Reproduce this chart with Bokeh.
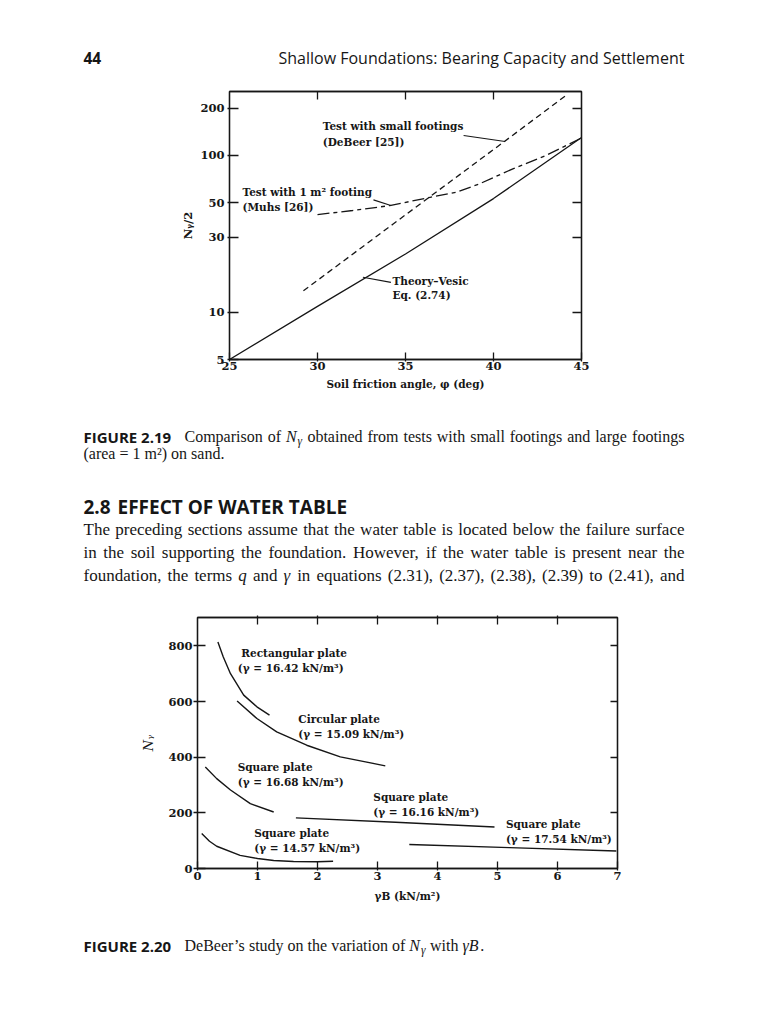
from bokeh.plotting import figure
from bokeh.layouts import column
from bokeh.models import Range1d, FixedTicker, LinearAxis, LogAxis, PrintfTickFormatter
from bokeh.core.properties import value
from bokeh.embed import file_html
from bokeh.resources import INLINE

# ---------------- data: Figure 2.19 ----------------
phi_ticks = [25, 30, 35, 40, 45]
ng2_ticks = [5, 10, 30, 50, 100, 200]
phi_vesic = [25, 30, 35, 40, 45]
ng2_vesic = [5.0, 10.9, 23.5, 53.0, 130.0]
phi_small = [29.2, 34.3, 40.6, 44.1]
ng2_small = [13.7, 36.5, 122.0, 240.0]
phi_muhs = [30.0, 32.0, 34.1, 36.4, 37.9, 39.2, 41.1, 43.0, 45.0]
ng2_muhs = [41.9, 44.5, 47.8, 54.0, 58.2, 65.8, 82.0, 100.0, 129.0]
fig1_labels = ["Test with small footings", "(DeBeer [25])", "Test with 1 m² footing",
               "(Muhs [26])", "Theory–Vesic", "Eq. (2.74)"]

# ---------------- data: Figure 2.20 ----------------
gb_ticks = [0, 1, 2, 3, 4, 5, 6, 7]
ng_ticks = [0, 200, 400, 600, 800]
rect_x = [0.34, 0.43, 0.55, 0.77, 0.99, 1.2]
rect_y = [814, 760, 700, 623, 581, 551]
circ_x = [0.66, 0.99, 1.32, 1.82, 2.38, 2.8, 3.13]
circ_y = [602, 539, 491, 443, 401, 383, 369]
sq1668_x = [0.13, 0.32, 0.55, 0.88, 1.27]
sq1668_y = [365, 323, 282, 233, 203]
sq1616_x = [1.64, 3.3, 4.95]
sq1616_y = [182, 166, 149]
sq1754_x = [3.53, 5.2, 6.98]
sq1754_y = [86, 75, 63]
sq1457_x = [0.07, 0.2, 0.32, 0.71, 1.0, 1.27, 1.6, 2.0, 2.26]
sq1457_y = [126, 98, 80, 47, 36, 29, 25, 24, 26]
fig2_labels = ["Rectangular plate", "(γ = 16.42 kN/m³)", "Circular plate", "(γ = 15.09 kN/m³)",
               "Square plate", "(γ = 16.68 kN/m³)", "Square plate", "(γ = 16.16 kN/m³)",
               "Square plate", "(γ = 17.54 kN/m³)", "Square plate", "(γ = 14.57 kN/m³)"]

# ---------------- page text ----------------
header_num = "44"
header_title = "Shallow Foundations: Bearing Capacity and Settlement"
cap1_tag = "FIGURE 2.19"
cap1_line1 = "Comparison of Nγ obtained from tests with small footings and large footings"
cap1_line2 = "(area = 1 m²) on sand."
section_num = "2.8"
section_title = "EFFECT OF WATER TABLE"
para_lines = [
    "The preceding sections assume that the water table is located below the failure surface",
    "in the soil supporting the foundation. However, if the water table is present near the",
    "foundation, the terms q and γ in equations (2.31), (2.37), (2.38), (2.39) to (2.41), and",
]
cap2_tag = "FIGURE 2.20"
cap2_text = "DeBeer’s study on the variation of Nγ with γB."

# ---------------- layout / style ----------------
W = 768
INK = "#161616"
SERIF = "Liberation Serif"
SANS = "Open Sans"
CH = "DejaVu Serif"

# Times-like advance widths (per 1000 em) used for justification
TW = {' ': 250, '(': 333, ')': 333, ',': 250, '.': 250, '-': 333, '=': 564, '’': 333, '²': 300,
      'A': 722, 'B': 667, 'C': 667, 'D': 722, 'E': 611, 'F': 556, 'G': 722, 'H': 722, 'I': 333,
      'N': 722, 'O': 722, 'S': 556, 'T': 611, 'W': 944,
      'a': 444, 'b': 500, 'c': 444, 'd': 500, 'e': 444, 'f': 333, 'g': 500, 'h': 500, 'i': 278,
      'j': 278, 'k': 500, 'l': 278, 'm': 778, 'n': 500, 'o': 500, 'p': 500, 'q': 500, 'r': 333,
      's': 389, 't': 278, 'u': 500, 'v': 500, 'w': 722, 'x': 500, 'y': 500, 'z': 444, 'γ': 440}
for d in "0123456789":
    TW[d] = 500

SPECIAL = {
    "Nγ": [("N", "italic", 1.0, 0.0), ("γ", "italic", 0.72, 4.0)],
    "q": [("q", "italic", 1.0, 0.0)],
    "γ": [("γ", "italic", 1.0, 0.0)],
    "γB.": [("γB", "italic", 1.0, 0.0), (".", "normal", 1.0, 0.0)],
}


def no_align(p):
    if "frame_align" in p.properties():
        p.frame_align = False


def seg_w(t, size, sc):
    return sum(TW.get(c, 500) for c in t) / 1000.0 * size * sc


def text_fig(h):
    p = figure(width=W, height=h, x_range=Range1d(0, W), y_range=Range1d(h, 0),
               x_axis_location=None, y_axis_location=None, toolbar_location=None,
               output_backend="svg", min_border=0, outline_line_color=None)
    p.grid.visible = False
    no_align(p)
    return p


def put(p, x, y, s, font, size, style="normal", align="left"):
    p.text(x=[x], y=[y], text=[s], text_font=value(font), text_font_size=f"{size:.1f}px",
           text_font_style=style, text_align=align, text_baseline="alphabetic", text_color=INK)


def place_line(p, line, x0, x1, y, size, font, justify=True):
    words = line.split(" ")
    segs = [SPECIAL.get(w, [(w, "normal", 1.0, 0.0)]) for w in words]
    widths = [sum(seg_w(t, size, sc) for t, st, sc, dy in s) for s in segs]
    if justify and len(words) > 1:
        gap = (x1 - x0 - sum(widths)) / (len(words) - 1)
    else:
        gap = 0.25 * size
    x = x0
    for s, wd in zip(segs, widths):
        xx = x
        for t, st, sc, dy in s:
            put(p, xx, y + dy, t, font, size * sc, st)
            xx += seg_w(t, size, sc)
        x += wd + gap


def style_axis(ax, tin, tout, standoff, size=11.5, lsize=10.5):
    ax.minor_tick_line_color = None
    ax.major_tick_in = tin
    ax.major_tick_out = tout
    ax.major_tick_line_color = INK
    ax.major_tick_line_width = 1.3
    ax.axis_line_color = INK
    ax.axis_line_width = 1.3
    ax.major_label_standoff = standoff
    ax.major_label_text_font = CH
    ax.major_label_text_font_size = f"{size}px"
    ax.major_label_text_font_style = "bold"
    ax.major_label_text_color = INK
    ax.axis_label_text_font = CH
    ax.axis_label_text_font_size = f"{lsize}px"
    ax.axis_label_text_font_style = "bold"
    ax.axis_label_text_color = INK


def bare_axis(ax):
    ax.major_label_text_color = None
    ax.major_label_text_font_size = "0px"


# ---- header (page y 0..80) ----
f_head = text_fig(80)
put(f_head, 83, 57, header_num, SANS, 15.5, "bold")
put(f_head, 278, 57, header_title, SANS, 16)

# ---- Figure 2.19 (page y 80..400) ----
p1 = figure(width=W, height=320, x_range=Range1d(25, 45), y_range=Range1d(5, 255), y_axis_type="log",
            toolbar_location=None, output_backend="svg",
            min_border_left=229, min_border_right=187, min_border_top=11, min_border_bottom=41,
            outline_line_color=INK, outline_line_width=1.3)
p1.grid.visible = False
no_align(p1)

xa = p1.xaxis[0]
xa.ticker = FixedTicker(ticks=phi_ticks)
style_axis(xa, 7, 2, 0)
xa.axis_label = "Soil friction angle, φ (deg)"
xa.axis_label_standoff = 5
ya = p1.yaxis[0]
ya.ticker = FixedTicker(ticks=ng2_ticks)
ya.formatter = PrintfTickFormatter(format="%d")
style_axis(ya, 9, 2, 3, lsize=11.5)
ya.axis_label = "Nᵧ/2"
ya.axis_label_standoff = 2

top1 = LinearAxis(ticker=FixedTicker(ticks=phi_ticks[1:-1]))
style_axis(top1, 8, 0, 0)
bare_axis(top1)
p1.add_layout(top1, "above")
right1 = LogAxis(ticker=FixedTicker(ticks=ng2_ticks[1:]))
style_axis(right1, 9, 0, 0)
bare_axis(right1)
p1.add_layout(right1, "right")

p1.line(phi_vesic, ng2_vesic, line_color=INK, line_width=1.3)
p1.line(phi_small, ng2_small, line_color=INK, line_width=1.3, line_dash="6 4")
p1.line(phi_muhs, ng2_muhs, line_color=INK, line_width=1.3, line_dash="12 4 4 4")

# annotation placement (data units)
l1_x = [30.3, 30.3, 25.74, 25.74, 34.26, 34.26]
l1_y = [153, 121, 58.7, 46.7, 15.9, 12.8]
p1.text(x=l1_x, y=l1_y, text=fig1_labels, text_font=value(CH), text_font_size="10.5px",
        text_font_style="bold", text_baseline="middle", text_color=INK)
p1.segment(x0=[38.3, 33.18, 32.58], y0=[133.6, 52.0, 16.7],
           x1=[40.66, 34.17, 34.17], y1=[122.4, 47.9, 15.5], line_color=INK, line_width=1.1)

# ---- text block (page y 400..600) ----
f_mid = text_fig(200)
oy = 400
put(f_mid, 83, 436 - oy, cap1_tag, SANS, 15, "bold")
place_line(f_mid, cap1_line1, 184, 684, 436 - oy, 16, SERIF)
place_line(f_mid, cap1_line2, 83, 684, 453 - oy, 16, SERIF, justify=False)
put(f_mid, 83, 506 - oy, section_num, SANS, 19, "bold")
put(f_mid, 117, 506 - oy, section_title, SANS, 19, "bold")
for i, ln in enumerate(para_lines):
    place_line(f_mid, ln, 83, 684, 529 + 23 * i - oy, 17, SERIF)

# ---- Figure 2.20 (page y 600..910) ----
p2 = figure(width=W, height=310, x_range=Range1d(0, 7), y_range=Range1d(0, 902),
            toolbar_location=None, output_backend="svg",
            min_border_left=197, min_border_right=151, min_border_top=17, min_border_bottom=42,
            outline_line_color=INK, outline_line_width=1.3)
p2.grid.visible = False
no_align(p2)
xb = p2.xaxis[0]
xb.ticker = FixedTicker(ticks=gb_ticks)
style_axis(xb, 7, 2, 1)
xb.axis_label = "γB (kN/m²)"
xb.axis_label_standoff = 7
yb = p2.yaxis[0]
yb.ticker = FixedTicker(ticks=ng_ticks)
style_axis(yb, 8, 4, 1, lsize=13)
yb.axis_label = "Nᵧ"
yb.axis_label_standoff = 9
yb.axis_label_text_font_style = "italic"

top2 = LinearAxis(ticker=FixedTicker(ticks=gb_ticks[1:-1]))
style_axis(top2, 7, 2, 0)
bare_axis(top2)
p2.add_layout(top2, "above")
right2 = LinearAxis(ticker=FixedTicker(ticks=ng_ticks[1:]))
style_axis(right2, 7, 0, 0)
bare_axis(right2)
p2.add_layout(right2, "right")

for xs, ys in [(rect_x, rect_y), (circ_x, circ_y), (sq1668_x, sq1668_y),
               (sq1616_x, sq1616_y), (sq1754_x, sq1754_y), (sq1457_x, sq1457_y)]:
    p2.line(xs, ys, line_color=INK, line_width=1.4)

l2_x = [0.73, 0.67, 1.68, 1.68, 0.67, 0.67, 2.93, 2.93, 5.14, 5.14, 0.945, 0.945]
l2_y = [774, 719, 539, 485, 365, 311, 257, 203, 159, 105, 126, 72]
p2.text(x=l2_x, y=l2_y, text=fig2_labels, text_font=value(CH), text_font_size="10.5px",
        text_font_style="bold", text_baseline="middle", text_color=INK)

# ---- caption 2 (page y 910..1020) ----
f_cap = text_fig(110)
oc = 910
put(f_cap, 83, 945 - oc, cap2_tag, SANS, 15, "bold")
place_line(f_cap, cap2_text, 184, 482, 945 - oc, 16, SERIF, justify=False)

page = column(f_head, p1, f_mid, p2, f_cap, spacing=0)
open("out.html", "w").write(file_html(page, INLINE))
